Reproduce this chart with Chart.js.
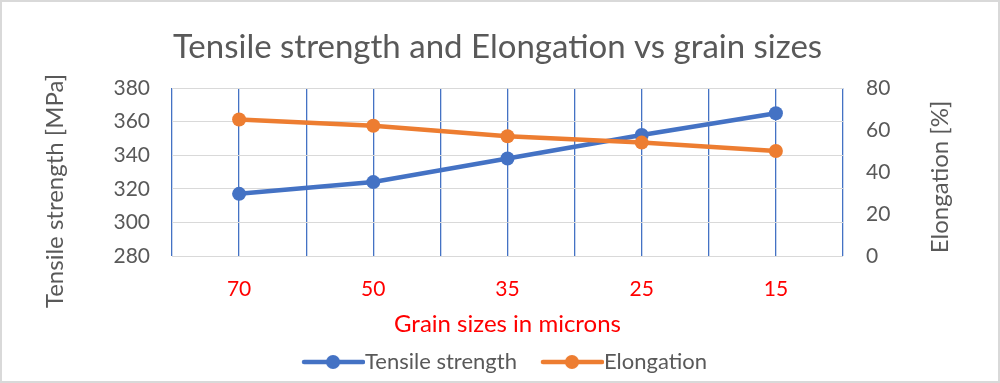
<!DOCTYPE html>
<html><head><meta charset="utf-8">
<script src="https://cdn.jsdelivr.net/npm/chart.js@4/dist/chart.umd.min.js"></script>
<style>html,body{margin:0;padding:0;background:#fff}</style>
</head><body>
<canvas id="c" width="1000" height="383"></canvas>
<script>
const categories = ['70', '50', '35', '25', '15'];
const tensileStrength = [317, 324, 338, 352, 365];
const elongation = [65, 62, 57, 54, 50];
const leftAxisRange = [280, 380, 20];
const rightAxisRange = [0, 80, 20];
const leftAxisTitle = 'Tensile strength [MPa]';
const rightAxisTitle = 'Elongation [%]';

const BLUE = '#4472C4', ORANGE = '#ED7D31', GRAY = '#595959', RED = '#FF0000';
const FONT = 'Lato, sans-serif';

function legendMarker(color) {
  const c = document.createElement('canvas');
  c.width = 88; c.height = 18;
  const g = c.getContext('2d');
  g.strokeStyle = color; g.lineWidth = 4.5; g.lineCap = 'round';
  g.beginPath(); g.moveTo(27, 9); g.lineTo(86, 9); g.stroke();
  g.fillStyle = color; g.beginPath(); g.arc(56, 9, 7, 0, Math.PI * 2); g.fill();
  return c;
}
const markers = [legendMarker(BLUE), legendMarker(ORANGE)];

const framePlugin = {
  id: 'frame',
  beforeDraw(chart) {
    const ctx = chart.ctx;
    ctx.save(); ctx.fillStyle = '#fff'; ctx.fillRect(0, 0, chart.width, chart.height); ctx.restore();
  },
  afterDraw(chart) {
    const ctx = chart.ctx;
    ctx.save(); ctx.strokeStyle = '#d9d9d9'; ctx.lineWidth = 2;
    ctx.strokeRect(1, 1, chart.width - 2, chart.height - 2); ctx.restore();
    // vertical axis titles, both reading bottom-to-top
    const a = chart.chartArea;
    const draw = (text, x, y) => {
      ctx.save(); ctx.translate(x, y); ctx.rotate(-Math.PI / 2);
      ctx.fillStyle = GRAY; ctx.font = '24px ' + FONT;
      ctx.textAlign = 'center'; ctx.textBaseline = 'middle';
      ctx.fillText(text, 0, 0); ctx.restore();
    };
    draw(leftAxisTitle, a.left - 117, a.top + 103);
    draw(rightAxisTitle, a.right + 97, a.top + 89);
  }
};

new Chart(document.getElementById('c'), {
  type: 'line',
  data: {
    datasets: [
      { label: 'Tensile strength', data: tensileStrength.map((v, i) => ({ x: i, y: v })),
        yAxisID: 'y', borderColor: BLUE, backgroundColor: BLUE, borderWidth: 4.5,
        pointRadius: 7, pointHoverRadius: 7, pointBorderWidth: 0, order: 1 },
      { label: 'Elongation', data: elongation.map((v, i) => ({ x: i, y: v })),
        yAxisID: 'y2', borderColor: ORANGE, backgroundColor: ORANGE, borderWidth: 4.5,
        pointRadius: 7, pointHoverRadius: 7, pointBorderWidth: 0, order: 0 }
    ]
  },
  options: {
    responsive: false, animation: false,
    layout: { padding: { top: 9, left: 38, right: 43, bottom: 0 } },
    plugins: {
      title: { display: true, text: 'Tensile strength and Elongation vs grain sizes',
        color: GRAY, font: { family: FONT, size: 33, weight: 'normal' }, padding: { top: 19, bottom: 20.4 } },
      legend: { position: 'bottom',
        labels: { usePointStyle: true, pointStyleWidth: 66, boxHeight: 18, padding: 10,
          color: GRAY, font: { family: FONT, size: 22 },
          generateLabels(chart) {
            return chart.data.datasets.map((d, i) => ({
              text: d.label, fillStyle: d.borderColor, strokeStyle: d.borderColor,
              pointStyle: markers[i], datasetIndex: i, hidden: false, fontColor: GRAY, lineWidth: 0
            }));
          } } },
      tooltip: { enabled: false }
    },
    scales: {
      x: { type: 'linear', min: -0.5, max: 4.5,
        afterFit(s) { s.height = 85; },
        border: { display: false },
        grid: { color: BLUE, lineWidth: 1.3, drawTicks: false },
        ticks: { stepSize: 0.5, autoSkip: false, maxRotation: 0, padding: 21, color: RED,
          font: { family: FONT, size: 21 },
          callback: v => Number.isInteger(v) ? categories[v] : '' },
        title: { display: true, text: 'Grain sizes in microns', color: RED,
          font: { family: FONT, size: 24 }, padding: { top: 4, bottom: 2 } } },
      y: { position: 'left', min: leftAxisRange[0], max: leftAxisRange[1],
        afterFit(s) { s.width = 134; },
        border: { display: false },
        grid: { color: '#d9d9d9', lineWidth: 1, drawTicks: false },
        ticks: { stepSize: leftAxisRange[2], padding: 22, color: GRAY, font: { family: FONT, size: 21 } } },
      y2: { position: 'right', min: rightAxisRange[0], max: rightAxisRange[1],
        afterFit(s) { s.width = 114; },
        border: { display: false },
        grid: { drawOnChartArea: false, drawTicks: false },
        ticks: { stepSize: rightAxisRange[2], padding: 23, color: GRAY, font: { family: FONT, size: 21 } } }
    }
  },
  plugins: [framePlugin]
});
</script>
</body></html>
